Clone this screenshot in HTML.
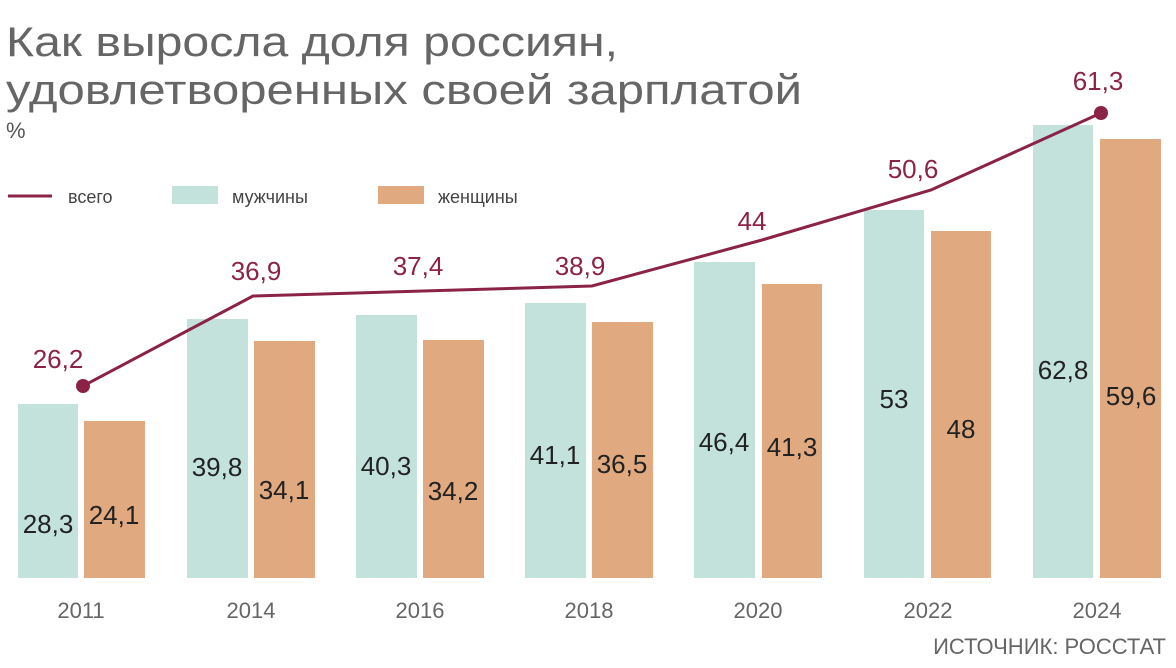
<!DOCTYPE html>
<html><head><meta charset="utf-8"><style>
body{margin:0;background:#fff;}
svg{display:block;font-family:"Liberation Sans",sans-serif;}
</style></head><body>
<svg width="1176" height="668" viewBox="0 0 1176 668">
<rect width="1176" height="668" fill="#fff"/>
<text x="6" y="56" font-size="42" fill="#666" textLength="612" lengthAdjust="spacingAndGlyphs">Как выросла доля россиян,</text>
<text x="6" y="104" font-size="42" fill="#666" textLength="796" lengthAdjust="spacingAndGlyphs">удовлетворенных своей зарплатой</text>
<text x="6" y="138" font-size="22" fill="#555">%</text>
<line x1="8" y1="196" x2="52" y2="196" stroke="#8b2346" stroke-width="3"/>
<text x="68" y="203" font-size="18" fill="#444">всего</text>
<rect x="172" y="186" width="46" height="18" fill="#c3e2db"/>
<text x="232" y="203" font-size="18" fill="#444">мужчины</text>
<rect x="378" y="186" width="46" height="18" fill="#e0a980"/>
<text x="438" y="203" font-size="18" fill="#444">женщины</text>
<g fill="#c3e2db">
<rect x="18" y="404" width="60" height="174"/>
<rect x="187" y="319" width="61" height="259"/>
<rect x="356" y="315" width="61" height="263"/>
<rect x="525" y="303" width="61" height="275"/>
<rect x="694" y="262" width="61" height="316"/>
<rect x="864" y="210" width="60" height="368"/>
<rect x="1033" y="125" width="60" height="453"/>
</g>
<g fill="#e0a980">
<rect x="84" y="421" width="61" height="157"/>
<rect x="254" y="341" width="61" height="237"/>
<rect x="423" y="340" width="61" height="238"/>
<rect x="592" y="322" width="61" height="256"/>
<rect x="762" y="284" width="60" height="294"/>
<rect x="931" y="231" width="60" height="347"/>
<rect x="1100" y="139" width="61" height="439"/>
</g>
<g font-size="26" fill="#222" text-anchor="middle">
<text x="48" y="533">28,3</text><text x="114" y="524">24,1</text>
<text x="217" y="476">39,8</text><text x="284" y="499">34,1</text>
<text x="386" y="475">40,3</text><text x="453" y="500">34,2</text>
<text x="555" y="464">41,1</text><text x="622" y="473">36,5</text>
<text x="724" y="451">46,4</text><text x="792" y="456">41,3</text>
<text x="894" y="408">53</text><text x="961" y="438">48</text>
<text x="1063" y="379">62,8</text><text x="1131" y="405">59,6</text>
</g>
<polyline points="83,386 253,296 423,291 592,286 762,240 931,190 1101,113" fill="none" stroke="#8b2346" stroke-width="3"/>
<g fill="#8b2346">
<circle cx="83" cy="386" r="7"/><circle cx="1101" cy="113" r="7"/>
</g>
<g font-size="26" fill="#8b2346" text-anchor="middle">
<text x="58" y="368">26,2</text><text x="256" y="280">36,9</text>
<text x="418" y="275">37,4</text><text x="580" y="275">38,9</text>
<text x="752" y="230">44</text><text x="913" y="178">50,6</text>
<text x="1098" y="90">61,3</text>
</g>
<g font-size="22" fill="#666" text-anchor="middle">
<text x="81" y="618">2011</text><text x="251" y="618">2014</text>
<text x="420" y="618">2016</text><text x="589" y="618">2018</text>
<text x="758" y="618">2020</text><text x="928" y="618">2022</text>
<text x="1097" y="618">2024</text>
</g>
<text x="1166" y="654" font-size="22" fill="#666" text-anchor="end">ИСТОЧНИК: РОССТАТ</text>
</svg>
</body></html>
